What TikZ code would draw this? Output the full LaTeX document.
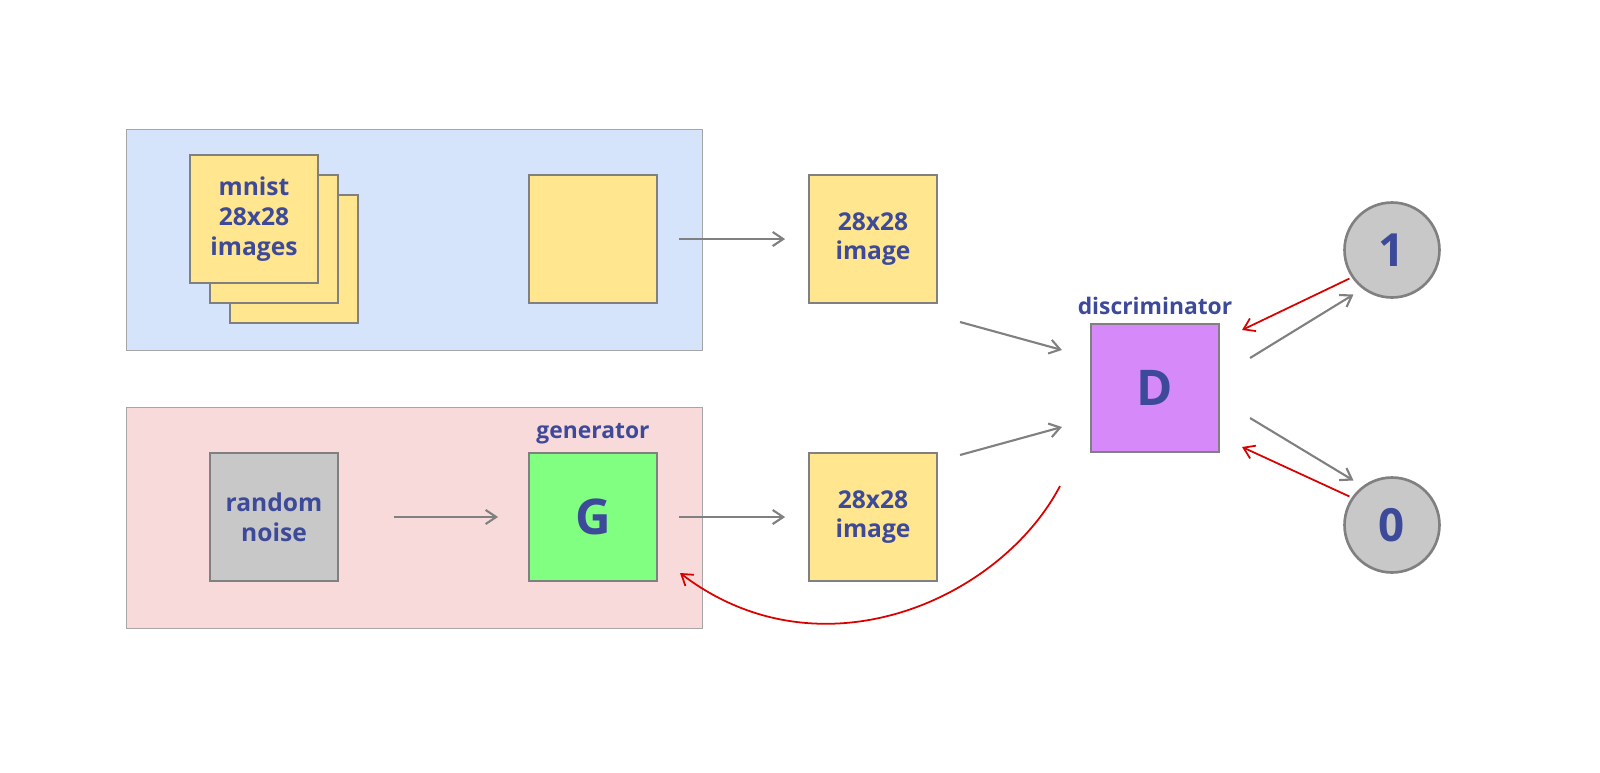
\documentclass[tikz,border=0pt]{standalone}
\usepackage{fontspec}
\setmainfont{Open Sans}
\usetikzlibrary{arrows.meta, positioning}
\definecolor{txtblue}{HTML}{3D4A9A}
\definecolor{realbg}{HTML}{D6E4FB}
\definecolor{fakebg}{HTML}{F9DADA}
\definecolor{paper}{HTML}{FFE68F}
\definecolor{noisegray}{HTML}{C8C8C8}
\definecolor{genfill}{HTML}{80FF80}
\definecolor{discfill}{HTML}{D68AFA}
\tikzset{
  panel/.style={draw=gray!70, fill=#1},
  card/.style={rectangle, draw=gray, line width=1.2pt, fill=#1, minimum width=2.56cm, minimum height=2.56cm, align=center, text=txtblue, font=\fontsize{14}{17}\selectfont\bfseries},
  bigcard/.style={card=#1, font=\fontsize{28}{30}\selectfont\bfseries},
  outcome/.style={circle, draw=gray, line width=1.5pt, fill=noisegray, minimum size=1.9cm, text=txtblue, font=\fontsize{26}{28}\selectfont\bfseries},
  caption/.style={text=txtblue, font=\fontsize{13}{15}\selectfont\bfseries},
  flow/.style={-{Straight Barb[length=6pt,width=8pt]}, draw=gray, line width=1.2pt},
  grad/.style={-{Straight Barb[length=6pt,width=8pt]}, draw=red!85!black, line width=1pt}
}
\begin{document}
\begin{tikzpicture}[x=0.02cm, y=-0.02cm]
  \useasboundingbox (0,0) rectangle (1600,772);

  % Panels
  \draw [panel=realbg] (126,129) rectangle (702,350);
  \draw [panel=fakebg] (126,407) rectangle (702,628);

  % Real data
  \node (mnist3) [card=paper] at (294,259) {};
  \node (mnist2) [card=paper] at (274,239) {};
  \node (mnist) [card=paper] at (254,219) {mnist\\28x28\\images};
  \node (sample) [card=paper] at (593,239) {};
  \node (realimg) [card=paper] at (873,239) {28x28\\image};

  % Fake data
  \node (noise) [card=noisegray] at (274,517) {random\\noise};
  \node (gen) [bigcard=genfill] at (593,517) {G};
  \node [caption, above=1pt of gen] {generator};
  \node (fakeimg) [card=paper] at (873,517) {28x28\\image};

  % Discriminator and outputs
  \node (disc) [bigcard=discfill] at (1155,388) {D};
  \node [caption, above=1pt of disc] {discriminator};
  \node (one) [outcome] at (1392,250) {1};
  \node (zero) [outcome] at (1392,525) {0};

  % Forward flow
  \draw [flow, shorten <=12pt, shorten >=13pt] (sample) -- (realimg);
  \draw [flow, shorten <=31pt, shorten >=17pt] (noise) -- (gen);
  \draw [flow, shorten <=12pt, shorten >=13pt] (gen) -- (fakeimg);
  \draw [flow] ([shift={(22,83)}]realimg.east) -- ([shift={(-28,-38)}]disc.west);
  \draw [flow] ([shift={(22,-62)}]fakeimg.east) -- ([shift={(-28,39)}]disc.west);
  \draw [flow] ([shift={(30,-30)}]disc.east) -- ([shift={(-4,10)}]one.south west);
  \draw [flow] ([shift={(30,30)}]disc.east) -- ([shift={(-4,-10)}]zero.north west);

  % Feedback
  \draw [grad] ([shift={(-8,-6)}]one.south west) -- ([shift={(22,-58)}]disc.east);
  \draw [grad] ([shift={(-8,6)}]zero.north west) -- ([shift={(22,59)}]disc.east);
  \draw [grad] ([shift={(-95,33)}]disc.south) .. controls (1000,600) and (820,680) .. ([shift={(22,56)}]gen.east);
\end{tikzpicture}
\end{document}
